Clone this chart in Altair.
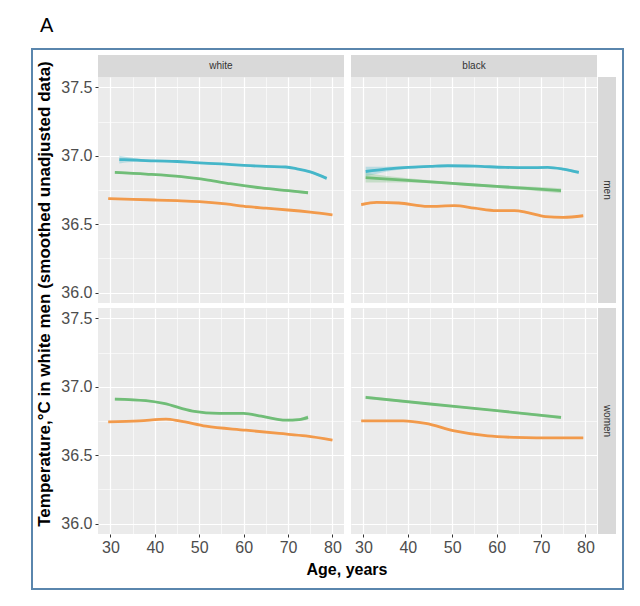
import json
import altair as alt
import pandas as pd

FONT = "Liberation Sans"
BORDER = "#5A86AD"
PANEL_BG = "#EBEBEB"
STRIP_BG = "#D9D9D9"
LABEL_COLOR = "#4D4D4D"

# ---- labels ----
panel_letter = "A"
col_labels = ["white", "black"]
row_labels = ["men", "women"]
y_title = "Temperature,°C in white men (smoothed unadjusted data)"
x_title = "Age, years"
series_names = ["Union Army", "NHANES", "STRIDE"]
series_colors = ["#45B6C9", "#70BD77", "#F29A4B"]

x_major = [30, 40, 50, 60, 70, 80]
x_minor = [35, 45, 55, 65, 75]
y_major = [36.0, 36.5, 37.0, 37.5]
y_minor = [36.25, 36.75, 37.25]
X_DOMAIN = [27.2, 82.6]
Y_DOMAIN = [35.925, 37.575]

# ---- white men ----
wm_ua_age = [32, 36, 40, 45, 49, 55, 60, 65, 69.5, 72, 75, 78.7]
wm_ua_temp = [36.972, 36.968, 36.962, 36.958, 36.950, 36.940, 36.930, 36.922, 36.918, 36.905, 36.882, 36.835]
wm_ua_se = [0.028, 0.012, 0.007, 0.005, 0.005, 0.005, 0.005, 0.005, 0.006, 0.006, 0.008, 0.010]

wm_nh_age = [31, 38, 46, 52, 57, 64, 70, 74.5]
wm_nh_temp = [36.878, 36.866, 36.847, 36.822, 36.796, 36.765, 36.745, 36.730]
wm_nh_se = [0.010, 0.007, 0.006, 0.006, 0.006, 0.007, 0.008, 0.011]

wm_st_age = [29.5, 35, 40, 45, 50, 56, 61, 65, 70, 75, 80]
wm_st_temp = [36.687, 36.682, 36.677, 36.672, 36.665, 36.648, 36.628, 36.617, 36.604, 36.588, 36.568]
wm_st_se = [0.005, 0.004, 0.004, 0.004, 0.004, 0.004, 0.004, 0.004, 0.004, 0.004, 0.005]

# ---- black men ----
bm_ua_age = [30.5, 35, 40, 45, 49, 55, 62, 67, 71.5, 75, 78.5]
bm_ua_temp = [36.885, 36.902, 36.915, 36.922, 36.927, 36.924, 36.915, 36.913, 36.915, 36.902, 36.878]
bm_ua_se = [0.035, 0.018, 0.010, 0.006, 0.005, 0.005, 0.005, 0.006, 0.007, 0.008, 0.012]

bm_nh_age = [30.5, 40, 50, 60, 67, 74.5]
bm_nh_temp = [36.840, 36.820, 36.798, 36.776, 36.762, 36.745]
bm_nh_se = [0.035, 0.015, 0.010, 0.011, 0.014, 0.018]

bm_st_age = [29.5, 33, 38, 44.5, 50.5, 55, 60, 64, 67, 71, 75, 79.5]
bm_st_temp = [36.643, 36.660, 36.655, 36.630, 36.636, 36.618, 36.600, 36.600, 36.585, 36.556, 36.550, 36.562]
bm_st_se = [0.012, 0.006, 0.005, 0.005, 0.005, 0.005, 0.005, 0.005, 0.005, 0.006, 0.007, 0.010]

# ---- white women ----
ww_nh_age = [31, 38, 42, 48.5, 54.5, 60, 64, 69.5, 72.5, 74.5]
ww_nh_temp = [36.910, 36.898, 36.878, 36.822, 36.805, 36.805, 36.785, 36.756, 36.760, 36.776]
ww_nh_se = [0.010, 0.007, 0.006, 0.006, 0.006, 0.006, 0.007, 0.008, 0.010, 0.016]

ww_st_age = [29.5, 36.5, 42.5, 45.5, 51.5, 60.5, 68, 74, 80]
ww_st_temp = [36.744, 36.751, 36.763, 36.751, 36.712, 36.683, 36.659, 36.641, 36.610]
ww_st_se = [0.005, 0.004, 0.004, 0.004, 0.004, 0.004, 0.004, 0.004, 0.005]

# ---- black women ----
bw_nh_age = [30.5, 45, 60, 74.5]
bw_nh_temp = [36.922, 36.874, 36.826, 36.776]
bw_nh_se = [0.012, 0.007, 0.007, 0.012]

bw_st_age = [29.5, 39, 44, 50.5, 58, 64, 69, 75, 79.5]
bw_st_temp = [36.751, 36.751, 36.732, 36.678, 36.641, 36.630, 36.627, 36.627, 36.627]
bw_st_se = [0.006, 0.005, 0.005, 0.005, 0.005, 0.005, 0.005, 0.005, 0.006]

series_table = [
    ("men", "white", series_names[0], wm_ua_age, wm_ua_temp, wm_ua_se),
    ("men", "white", series_names[1], wm_nh_age, wm_nh_temp, wm_nh_se),
    ("men", "white", series_names[2], wm_st_age, wm_st_temp, wm_st_se),
    ("men", "black", series_names[0], bm_ua_age, bm_ua_temp, bm_ua_se),
    ("men", "black", series_names[1], bm_nh_age, bm_nh_temp, bm_nh_se),
    ("men", "black", series_names[2], bm_st_age, bm_st_temp, bm_st_se),
    ("women", "white", series_names[1], ww_nh_age, ww_nh_temp, ww_nh_se),
    ("women", "white", series_names[2], ww_st_age, ww_st_temp, ww_st_se),
    ("women", "black", series_names[1], bw_nh_age, bw_nh_temp, bw_nh_se),
    ("women", "black", series_names[2], bw_st_age, bw_st_temp, bw_st_se),
]

rows = []
for sex, race, ser, ages, temps, ses in series_table:
    for a, t, s in zip(ages, temps, ses):
        rows.append({"sex": sex, "race": race, "series": ser, "age": a,
                     "temp": t, "lo": t - s, "hi": t + s})
df = pd.DataFrame(rows)

x_test = f"indexof({json.dumps(x_major)}, datum.value) >= 0"
y_test = f"indexof({json.dumps(y_major)}, datum.value) >= 0"


def xaxis(show):
    common = dict(values=sorted(x_major + x_minor), title=None, domain=False,
                  grid=True, gridColor="white",
                  gridWidth=alt.condition(x_test, alt.value(1.2), alt.value(0.6)))
    if show:
        return alt.Axis(**common, ticks=True, tickSize=3, tickColor="#333333",
                        tickOpacity=alt.condition(x_test, alt.value(1), alt.value(0)),
                        labelExpr=f"{x_test} ? datum.label : ''", format="d",
                        labelFont=FONT, labelFontSize=16, labelColor=LABEL_COLOR,
                        labelPadding=2, labelOverlap=False, labelFlush=False)
    return alt.Axis(**common, ticks=False, labels=False)


def yaxis(show):
    common = dict(values=sorted(y_major + y_minor), title=None, domain=False,
                  grid=True, gridColor="white",
                  gridWidth=alt.condition(y_test, alt.value(1.2), alt.value(0.6)))
    if show:
        return alt.Axis(**common, ticks=True, tickSize=3, tickColor="#333333",
                        tickOpacity=alt.condition(y_test, alt.value(1), alt.value(0)),
                        labelExpr=f"{y_test} ? format(datum.value, '.1f') : ''",
                        labelFont=FONT, labelFontSize=16, labelColor=LABEL_COLOR,
                        labelPadding=3, labelOverlap=False, labelFlush=False)
    return alt.Axis(**common, ticks=False, labels=False)


# ---- grid layout (column widths / row heights in px) ----
COLS = [23, 2, 65, 246, 7, 246, 1, 18, 6, 2]
ROWS = [40, 2, 5, 22, 226, 5, 226, 54, 2]
PW, PH = COLS[3], ROWS[4]


def panel(sex, race, show_x, show_y):
    sub = df[(df["sex"] == sex) & (df["race"] == race)]
    xs = alt.Scale(domain=X_DOMAIN, nice=False, zero=False)
    ys = alt.Scale(domain=Y_DOMAIN, nice=False, zero=False)
    color = alt.Color("series:N", scale=alt.Scale(domain=series_names, range=series_colors), legend=None)
    base = alt.Chart(sub)
    band = base.mark_area(opacity=0.3, interpolate="monotone").encode(
        x=alt.X("age:Q", scale=xs, axis=xaxis(show_x)),
        y=alt.Y("lo:Q", scale=ys, axis=yaxis(show_y)),
        y2="hi:Q",
        color=color,
        detail="series:N",
    )
    line = base.mark_line(strokeWidth=2.8, interpolate="monotone").encode(
        x=alt.X("age:Q", scale=xs, axis=xaxis(show_x)),
        y=alt.Y("temp:Q", scale=ys, axis=yaxis(show_y)),
        color=color,
        detail="series:N",
    )
    return alt.layer(band, line).properties(width=PW, height=PH,
                                            view=alt.ViewBackground(fill=PANEL_BG))


def blank(w, h, fill=None):
    view = alt.ViewBackground(fill=fill) if fill else alt.ViewBackground()
    return alt.Chart(alt.Data(values=[{"t": ""}])).mark_text(fontSize=1, baseline="middle").encode(
        text="t:N", x=alt.value(w / 2), y=alt.value(h / 2)
    ).properties(width=w, height=h, view=view)


def text_box(label, w, h, x, y, fill=None, angle=0, size=10, bold=False, color="#333333",
             align="center", baseline="middle"):
    view = alt.ViewBackground(fill=fill) if fill else alt.ViewBackground()
    kw = dict(fontSize=size, font=FONT, color=color, align=align, baseline=baseline)
    if angle:
        kw["angle"] = angle
    if bold:
        kw["fontWeight"] = "bold"
    return alt.Chart(alt.Data(values=[{"t": label}])).mark_text(**kw).encode(
        text="t:N", x=alt.value(x), y=alt.value(y)
    ).properties(width=w, height=h, view=view)


cells = {}
# panel letter
cells[(0, 2)] = text_box(panel_letter, COLS[2], ROWS[0], 7, 24, size=20, color="black",
                         align="left", baseline="alphabetic")
# border box
for c in range(1, len(COLS)):
    cells[(1, c)] = blank(COLS[c], ROWS[1], fill=BORDER)
    cells[(8, c)] = blank(COLS[c], ROWS[8], fill=BORDER)
for r in range(1, len(ROWS)):
    cells[(r, 1)] = blank(COLS[1], ROWS[r], fill=BORDER)
    cells[(r, 9)] = blank(COLS[9], ROWS[r], fill=BORDER)
# column strips
cells[(3, 3)] = text_box(col_labels[0], PW, ROWS[3], PW / 2, ROWS[3] / 2, fill=STRIP_BG)
cells[(3, 5)] = text_box(col_labels[1], PW, ROWS[3], PW / 2, ROWS[3] / 2, fill=STRIP_BG)
# panels
cells[(4, 3)] = panel(row_labels[0], col_labels[0], False, True)
cells[(4, 5)] = panel(row_labels[0], col_labels[1], False, False)
cells[(6, 3)] = panel(row_labels[1], col_labels[0], True, True)
cells[(6, 5)] = panel(row_labels[1], col_labels[1], True, False)
# row strips
cells[(4, 7)] = text_box(row_labels[0], COLS[7], PH, COLS[7] / 2, PH / 2, fill=STRIP_BG, angle=90)
cells[(6, 7)] = text_box(row_labels[1], COLS[7], PH, COLS[7] / 2, PH / 2, fill=STRIP_BG, angle=90)
# axis titles (overflow their cell; bounds are flush)
cells[(4, 2)] = text_box(y_title, COLS[2], PH, 12, 217, angle=270, size=17, bold=True, color="black")
cells[(7, 3)] = text_box(x_title, PW, ROWS[7], 249, 36, size=16, bold=True, color="black")

ordered = []
for r in range(len(ROWS)):
    for c in range(len(COLS)):
        ordered.append(cells.get((r, c), blank(COLS[c], ROWS[r])))

chart = alt.concat(*ordered, columns=len(COLS), spacing=0, bounds="flush").properties(
    padding=0, background="white").configure_view(stroke=None)

chart.save("out.html", embed_options={"renderer": "svg", "actions": False})
